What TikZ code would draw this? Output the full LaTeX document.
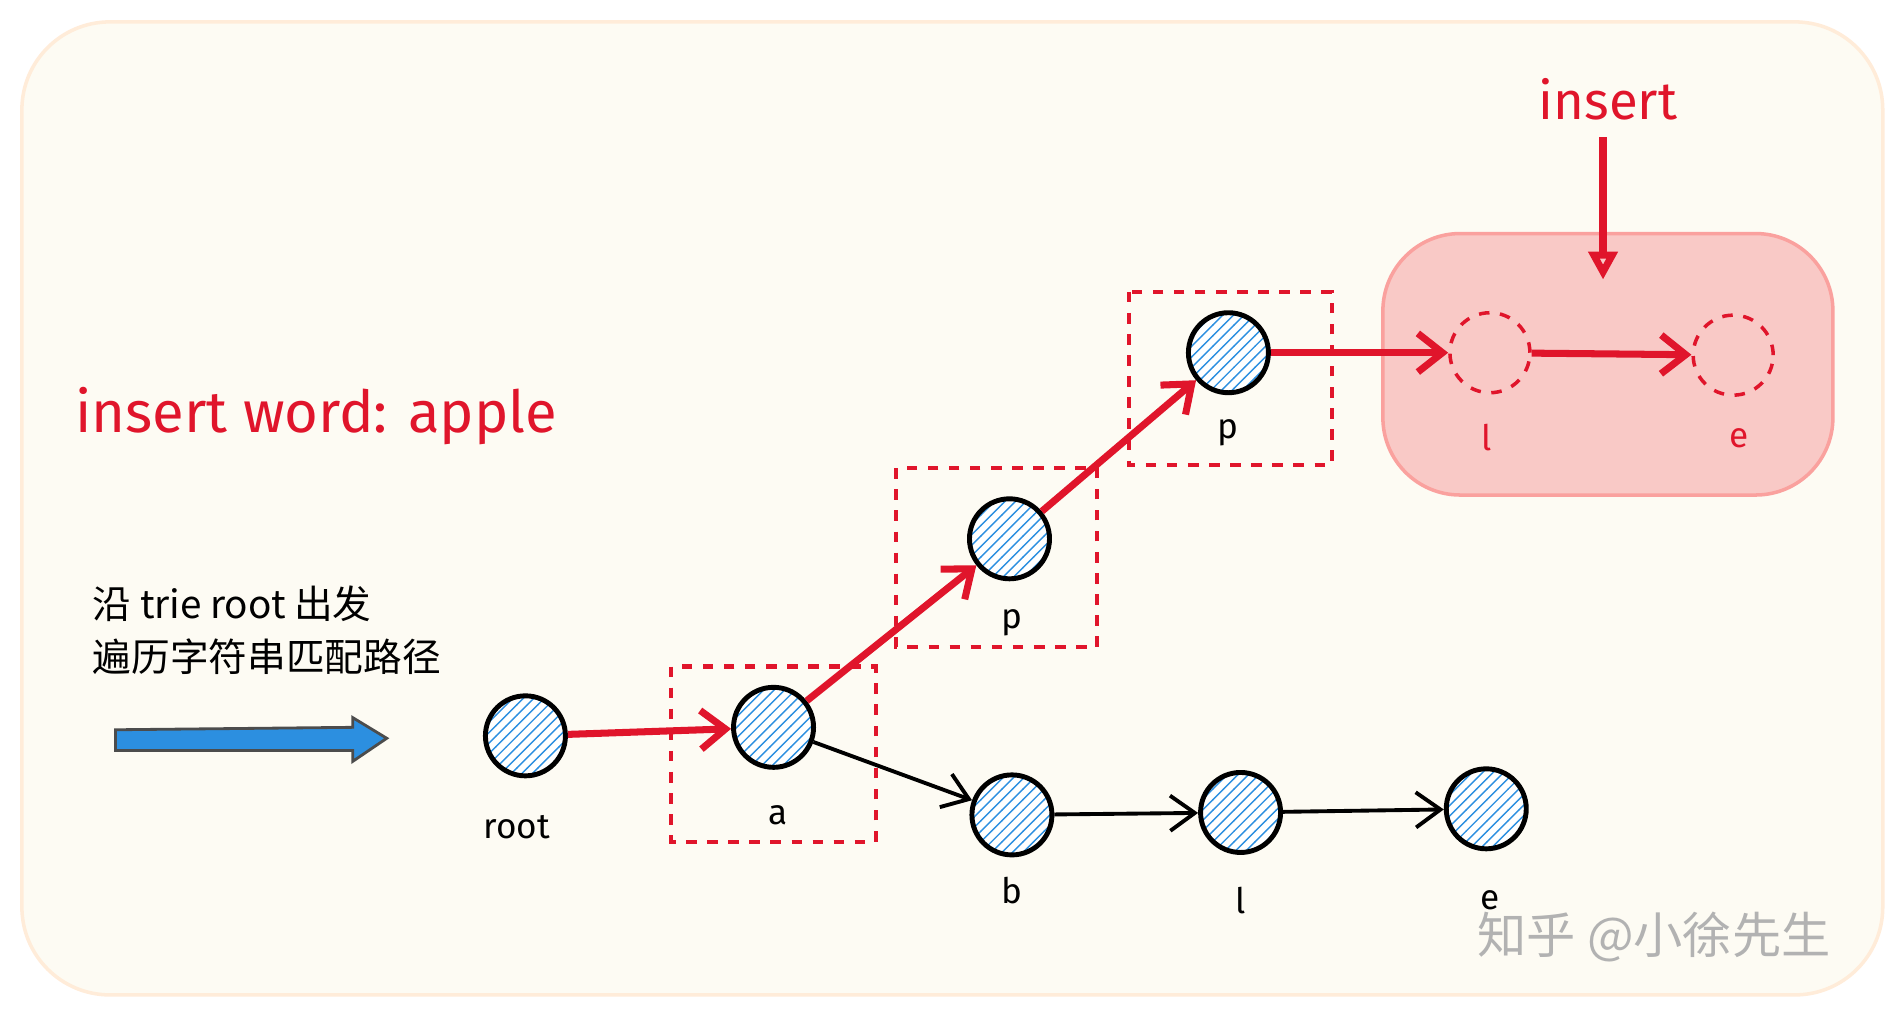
\documentclass[tikz,border=0pt]{standalone}
\usepackage{fontspec}
\setmainfont{Fira Sans}
\newfontfamily\cjk{Noto Sans CJK SC}
\usetikzlibrary{arrows.meta,patterns}
\definecolor{bg}{HTML}{FDFBF3}
\definecolor{rd}{HTML}{E0152B}
\definecolor{hb}{HTML}{2C8FE0}
\definecolor{pk}{HTML}{F9C9C6}
\begin{document}
\begin{tikzpicture}[x=0.012163cm,y=-0.012163cm,
  nd/.style={circle,draw=black,line width=1.4pt,minimum size=0.8cm,inner sep=0pt,preaction={fill=white},pattern=north east lines,pattern color=hb},
  en/.style={circle,draw=rd,dashed,line width=1pt,minimum size=0.8cm,inner sep=0pt},
  lb/.style={font=\fontsize{10}{10}\selectfont},
  ra/.style={draw=rd,line width=2pt,-{Straight Barb[length=7pt,width=11pt]}},
  ba/.style={draw=black,line width=1.1pt,-{Straight Barb[length=7pt,width=10pt]}},
  bx/.style={draw=rd,dashed,line width=1.2pt}]
\useasboundingbox (0,0) rectangle (1563,831);
\fill[white] (0,0) rectangle (1563,831);
\draw[rounded corners=25pt,fill=bg,draw=orange!15,line width=1pt] (18,18) rectangle (1548,818);
\node[text=rd,font=\fontsize{16.5}{16}\selectfont] (title) at (260,342) {insert word: apple};
\node[align=left,anchor=west,font=\fontsize{11}{15}\selectfont\cjk] (desc) at (66,518) {沿 trie root 出发\\遍历字符串匹配路径};
\coordinate (bs) at (95,608); \coordinate (be) at (318,608);
\draw[draw=black!70,fill=hb,line width=0.8pt] (95,600) -- (290,598) -- (290,590) -- (318,607) -- (290,626) -- (290,617) -- (95,617) -- cycle;
\draw[bx] (552,548) rectangle (720,692);
\draw[bx] (737,385) rectangle (902,532);
\draw[bx] (928,240) rectangle (1095,382);
\draw[fill=pk,draw=pk!80!red,rounded corners=22pt,line width=1pt] (1137,192) rectangle (1507,407);
\node[nd] (root) at (432,605) {};
\node[nd] (a) at (636,598) {};
\node[nd] (p1) at (830,443) {};
\node[nd] (p2) at (1010,290) {};
\node[nd] (b) at (832,670) {};
\node[nd] (l2) at (1020,668) {};
\node[nd] (e2) at (1222,665) {};
\node[en] (l1) at (1225,290) {};
\node[en] (e1) at (1425,292) {};
\node[lb] at (425,680) {root};
\node[lb] at (640,670) {a};
\node[lb] at (832,512) {p};
\node[lb] at (1010,356) {p};
\node[lb,text=rd] at (1222,360) {l};
\node[lb,text=rd] at (1430,360) {e};
\node[lb] at (832,732) {b};
\node[lb] at (1020,740) {l};
\node[lb] at (1225,740) {e};
\node[text=rd,font=\fontsize{15}{15}\selectfont] (ins) at (1322,82) {insert};
\coordinate (it) at (1318,113); \coordinate (ib) at (1318,230);
\draw[draw=rd,line width=2.5pt,-{Triangle[open,length=8pt,width=8pt]}] (it) -- (ib);
\draw[ra] (root) -- (a);
\draw[ra] (a) -- (p1);
\draw[ra] (p1) -- (p2);
\draw[ra] (p2) -- (l1);
\draw[ra] (l1) -- (e1);
\draw[ba] (a) -- (b);
\draw[ba] (b) -- (l2);
\draw[ba] (l2) -- (e2);
\node[text=black!30,font=\fontsize{14}{14}\selectfont\cjk] (wm) at (1360,770) {知乎 @小徐先生};
\end{tikzpicture}
\end{document}
